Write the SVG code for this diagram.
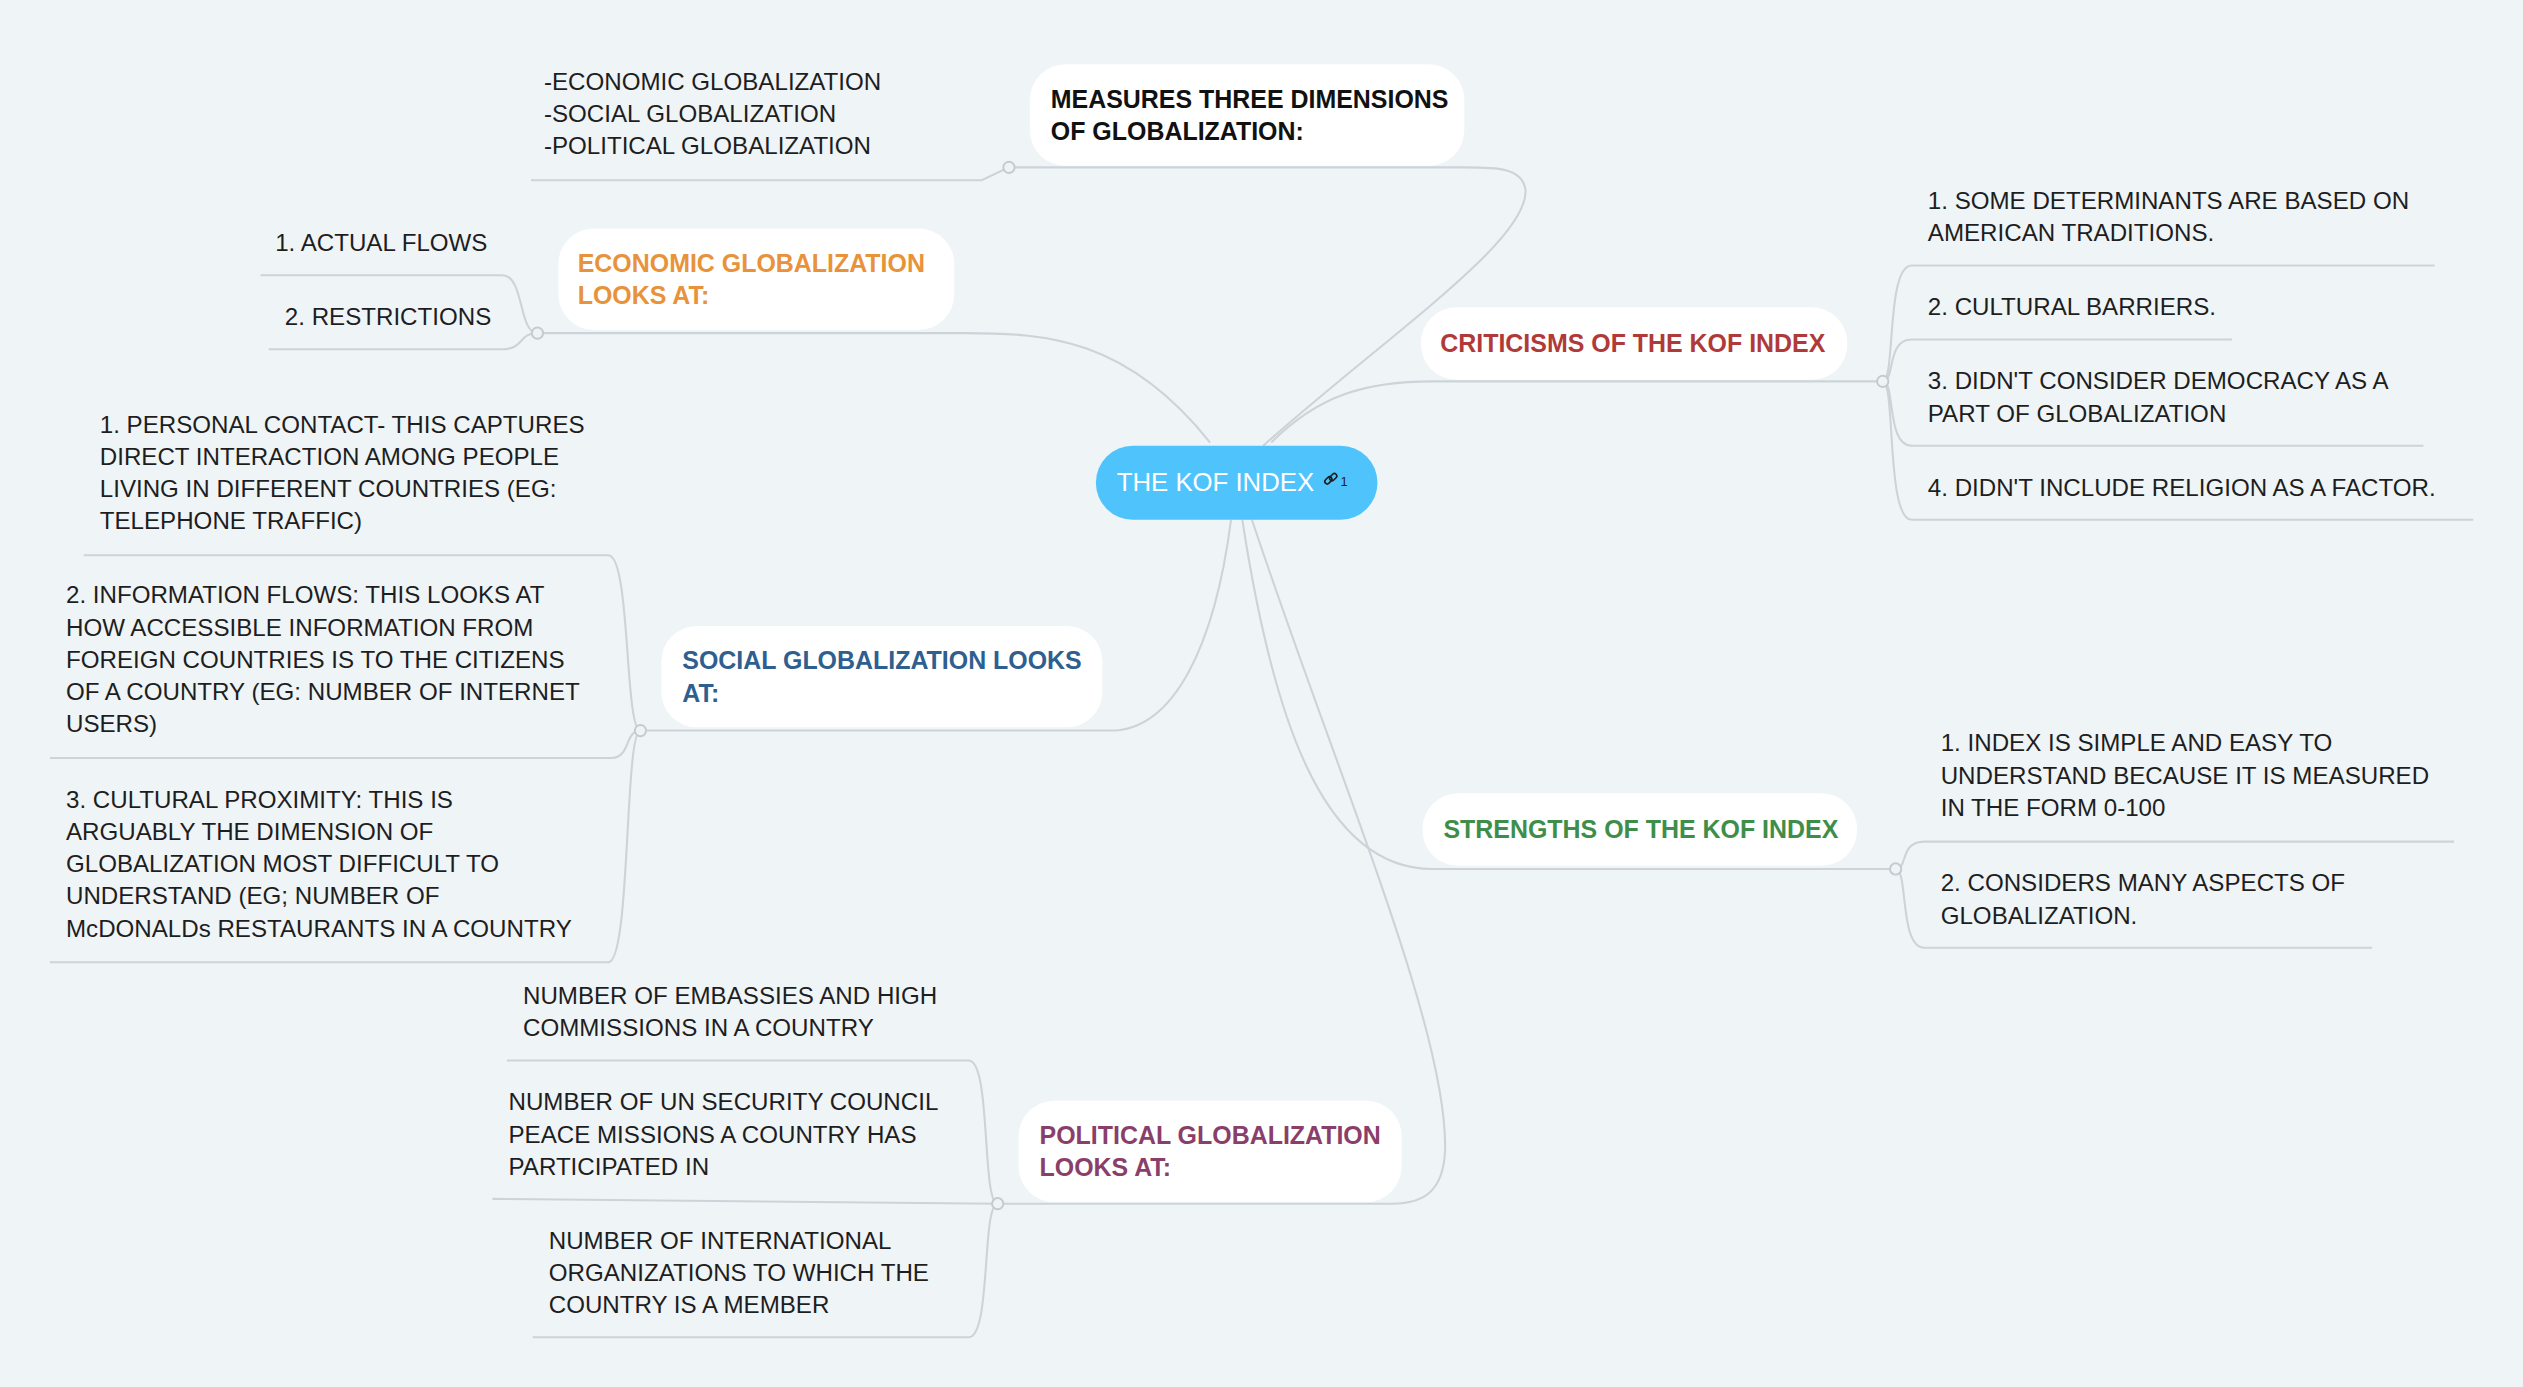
<svg xmlns="http://www.w3.org/2000/svg" width="2523" height="1387" viewBox="0 0 2523 1387">
<style>
.t{font-family:"Liberation Sans",Arial,sans-serif;font-size:15px;fill:#1e1e1e}
.b{font-family:"Liberation Sans",Arial,sans-serif;font-size:15.5px;font-weight:bold}
.c{fill:none;stroke:#cdd3d8;stroke-width:1.3}
.n{fill:#ffffff}
.d{fill:#eef3f6;stroke:#c4cbd0;stroke-width:1.2}
</style>
<rect width="2523" height="1387" fill="#eff4f7"/>
<g transform="scale(1.6092)">
<g id="connectors">
<path class="c" d="M785,277 C860,210 950,150 948,118 C946,104 930,104 910,104 L627,104 L610,112 L330,112"/>
<path class="c" d="M752,275 C700,210 650,207 600,207 L334,207"/>
<path class="c" d="M334,207 C322,207 326,171 312,171 L162,171 M334,207 C322,207 326,217 312,217 L167,217"/>
<path class="c" d="M765,323 C755,400 730,454 690,454 L398,454"/>
<path class="c" d="M398,454 C388,454 392,345 378,345 L52,345 M398,454 C388,454 392,471 380,471 L31,471 M398,454 C388,454 392,598 378,598 L31,598"/>
<path class="c" d="M790,275 C820,245 850,237 890,237 L1170,237"/>
<path class="c" d="M1170,237 C1178,237 1172,165 1188,165 L1513,165 M1170,237 C1178,237 1172,211 1188,211 L1387,211 M1170,237 C1178,237 1172,277 1188,277 L1506,277 M1170,237 C1178,237 1172,323 1188,323 L1537,323"/>
<path class="c" d="M772,323 C790,440 820,540 890,540 L1178,540"/>
<path class="c" d="M1178,540 C1186,540 1180,523 1196,523 L1525,523 M1178,540 C1186,540 1180,589 1196,589 L1474,589"/>
<path class="c" d="M778,323 C830,480 900,640 898,715 C897,740 885,748 865,748 L620,748"/>
<path class="c" d="M620,748 C610,748 616,659 602,659 L315,659 M620,748 L306,745 M620,748 C610,748 616,831 602,831 L331,831"/>
<circle class="d" cx="627" cy="104" r="3.5"/>
<circle class="d" cx="334" cy="207" r="3.5"/>
<circle class="d" cx="398" cy="454" r="3.5"/>
<circle class="d" cx="1170" cy="237" r="3.5"/>
<circle class="d" cx="1178" cy="540" r="3.5"/>
<circle class="d" cx="620" cy="748" r="3.5"/>
</g>
<g id="center">
<rect x="681" y="277" width="175" height="46" rx="23" fill="#4fc3fc"/>
<text x="694" y="305" font-family="Liberation Sans,Arial,sans-serif" font-size="16" fill="#ffffff">THE KOF INDEX</text>
<g fill="none" stroke="#1e1e1e" stroke-width="1"><rect x="823" y="297" width="5" height="3" rx="1.5" transform="rotate(-45 825.5 298.5)"/><rect x="826" y="295" width="5" height="3" rx="1.5" transform="rotate(-45 828.5 296.5)"/></g>
<text x="833" y="302" font-family="Liberation Sans,Arial,sans-serif" font-size="8" fill="#1e1e1e">1</text>
</g>
<g id="measures">
<rect class="n" x="640" y="40" width="270" height="63" rx="22"/>
<text class="b" fill="#111" x="653" y="67">MEASURES THREE DIMENSIONS</text>
<text class="b" fill="#111" x="653" y="87">OF GLOBALIZATION:</text>
<text class="t" x="338" y="56">-ECONOMIC GLOBALIZATION</text>
<text class="t" x="338" y="76">-SOCIAL GLOBALIZATION</text>
<text class="t" x="338" y="96">-POLITICAL GLOBALIZATION</text>
</g>
<g id="economic">
<rect class="n" x="347" y="142" width="246" height="63" rx="22"/>
<text class="b" fill="#e8923a" x="359" y="169">ECONOMIC GLOBALIZATION</text>
<text class="b" fill="#e8923a" x="359" y="189">LOOKS AT:</text>
<text class="t" x="171" y="156">1. ACTUAL FLOWS</text>
<text class="t" x="177" y="202">2. RESTRICTIONS</text>
</g>
<g id="social">
<rect class="n" x="411" y="389" width="274" height="63" rx="22"/>
<text class="b" fill="#2f5f8f" x="424" y="416">SOCIAL GLOBALIZATION LOOKS</text>
<text class="b" fill="#2f5f8f" x="424" y="436">AT:</text>
<text class="t" x="62" y="269">1. PERSONAL CONTACT- THIS CAPTURES</text>
<text class="t" x="62" y="289">DIRECT INTERACTION AMONG PEOPLE</text>
<text class="t" x="62" y="309">LIVING IN DIFFERENT COUNTRIES (EG:</text>
<text class="t" x="62" y="329">TELEPHONE TRAFFIC)</text>
<text class="t" x="41" y="375">2. INFORMATION FLOWS: THIS LOOKS AT</text>
<text class="t" x="41" y="395">HOW ACCESSIBLE INFORMATION FROM</text>
<text class="t" x="41" y="415">FOREIGN COUNTRIES IS TO THE CITIZENS</text>
<text class="t" x="41" y="435">OF A COUNTRY (EG: NUMBER OF INTERNET</text>
<text class="t" x="41" y="455">USERS)</text>
<text class="t" x="41" y="502">3. CULTURAL PROXIMITY: THIS IS</text>
<text class="t" x="41" y="522">ARGUABLY THE DIMENSION OF</text>
<text class="t" x="41" y="542">GLOBALIZATION MOST DIFFICULT TO</text>
<text class="t" x="41" y="562">UNDERSTAND (EG; NUMBER OF</text>
<text class="t" x="41" y="582">McDONALDs RESTAURANTS IN A COUNTRY</text>
</g>
<g id="criticisms">
<rect class="n" x="883" y="191" width="265" height="45" rx="22"/>
<text class="b" fill="#b03a3a" x="895" y="219">CRITICISMS OF THE KOF INDEX</text>
<text class="t" x="1198" y="130">1. SOME DETERMINANTS ARE BASED ON</text>
<text class="t" x="1198" y="150">AMERICAN TRADITIONS.</text>
<text class="t" x="1198" y="196">2. CULTURAL BARRIERS.</text>
<text class="t" x="1198" y="242">3. DIDN'T CONSIDER DEMOCRACY AS A</text>
<text class="t" x="1198" y="262">PART OF GLOBALIZATION</text>
<text class="t" x="1198" y="308">4. DIDN'T INCLUDE RELIGION AS A FACTOR.</text>
</g>
<g id="strengths">
<rect class="n" x="884" y="493" width="270" height="45" rx="22"/>
<text class="b" fill="#3e8e4a" x="897" y="521">STRENGTHS OF THE KOF INDEX</text>
<text class="t" x="1206" y="467">1. INDEX IS SIMPLE AND EASY TO</text>
<text class="t" x="1206" y="487">UNDERSTAND BECAUSE IT IS MEASURED</text>
<text class="t" x="1206" y="507">IN THE FORM 0-100</text>
<text class="t" x="1206" y="554">2. CONSIDERS MANY ASPECTS OF</text>
<text class="t" x="1206" y="574">GLOBALIZATION.</text>
</g>
<g id="political">
<rect class="n" x="633" y="684" width="238" height="63" rx="22"/>
<text class="b" fill="#8a3f6a" x="646" y="711">POLITICAL GLOBALIZATION</text>
<text class="b" fill="#8a3f6a" x="646" y="731">LOOKS AT:</text>
<text class="t" x="325" y="624">NUMBER OF EMBASSIES AND HIGH</text>
<text class="t" x="325" y="644">COMMISSIONS IN A COUNTRY</text>
<text class="t" x="316" y="690">NUMBER OF UN SECURITY COUNCIL</text>
<text class="t" x="316" y="710">PEACE MISSIONS A COUNTRY HAS</text>
<text class="t" x="316" y="730">PARTICIPATED IN</text>
<text class="t" x="341" y="776">NUMBER OF INTERNATIONAL</text>
<text class="t" x="341" y="796">ORGANIZATIONS TO WHICH THE</text>
<text class="t" x="341" y="816">COUNTRY IS A MEMBER</text>
</g>
</g>
</svg>
